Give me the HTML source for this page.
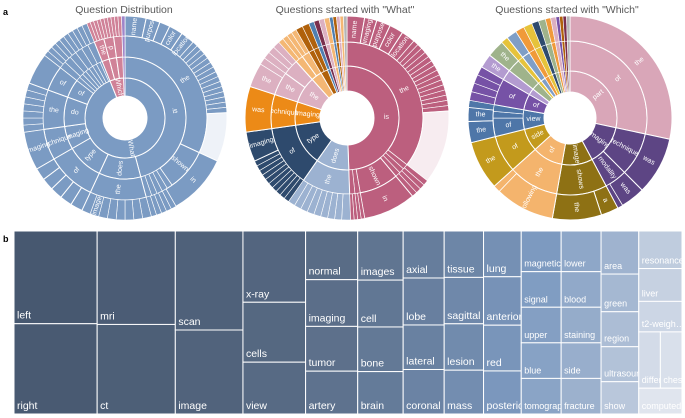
<!DOCTYPE html>
<html><head><meta charset="utf-8">
<style>
html,body{margin:0;padding:0;background:#fff;}
body{width:685px;height:418px;overflow:hidden;position:relative;font-family:"Liberation Sans",sans-serif;}
svg{position:absolute;left:0;top:0;}
</style></head>
<body>
<svg id="fig" width="685" height="418" viewBox="0 0 685 418">
  <text x="3" y="15" font-size="9" font-weight="bold" fill="#000">a</text>
  <text x="3" y="242" font-size="9" font-weight="bold" fill="#000">b</text>
  <text x="124" y="13" font-size="10.5" fill="#595959" text-anchor="middle">Question Distribution</text>
  <text x="345" y="13" font-size="10.5" fill="#595959" text-anchor="middle">Questions started with "What"</text>
  <text x="567" y="13" font-size="10.5" fill="#595959" text-anchor="middle">Questions started with "Which"</text>
</svg>
<script>
// ---------- palette keys ----------
const PAL = {B:"#7b9bc3",F:"#eef2f8",P:"#d08298",V:"#9f86c9",
  M:"#bc5f7e",MF:"#f7ecf0",D:"#9cb2d1",N:"#2e4a6d",O:"#ec8a17",K:"#dcb0c1",L:"#f4b774",R:"#b0610b",U:"#4f7fb0",Q:"#7a2f4d",G:"#b5b5b5",
  A:"#d9a6b8",I:"#5d4584",H:"#8e7114",T:"#f4b46d",S:"#c39a1c",W:"#4e76a8",X:"#7652a6",Y:"#b39bd0",Z:"#9fb38b",J:"#e6c33a",C:"#7f9ec6",E:"#f09a3a"};

// ---------- Chart 1: Question Distribution ----------
const c1r1Values=[338,20,2];
const c1r1Labels=["What","Which",""];
const c1r1Colors=["B","P","V"];
const c1r2Values=[165,40,35,22,28,18,4,4,4,4,4,4,4,2,7,7,6,2];
const c1r2Labels=["is","does","type","imaging","do","of","","","","","","","","","","","",""];
const c1r2Colors=["B","B","B","B","B","B","B","B","B","B","B","B","B","B","P","P","P","V"];
const c1r3Values=[115,30,4,4,4,4,4,40,35,22,28,18,5,5,5,5,5,5,7,7,6,2];
const c1r3Labels=["the","shown","","","","","","the","of","technique","the","of","","","","","","","the","p","","" ];
const c1r3Colors=["B","B","B","B","B","B","B","B","B","B","B","B","B","B","B","B","B","B","P","P","P","V"];
const c1r4Values=[12,8,6,8,8,3,3,3,3,3,3,3,3,3,3,3,3,3,3,3,28,35,3,3,3,3,3,5,5,5,5,5,5,5,5,7,7,7,7,7,22,4,4,4,4,4,4,4,18,3,3,3,3,3,3,3,3,3,3,2,2,2,2,2,2,2,2,2,2,2];
const c1r4Labels=["name","purpose","","color","location","","","","","","","","","","","","","","","","","in","","","","","","","","","","","","image","","","","","","","imaging","was","","","","","","","","the","","","","","","","","","","","","","","","","","","","",""];
const c1r4Colors=["B","B","B","B","B","B","B","B","B","B","B","B","B","B","B","B","B","B","B","B","F","B","B","B","B","B","B","B","B","B","B","B","B","B","B","B","B","B","B","B","B","B","B","B","B","B","B","B","B","B","B","B","B","B","B","B","B","B","B","P","P","P","P","P","P","P","P","P","P","V"];

// ---------- Chart 2: What ----------
const c2r1Values=[178,37,47,26,30,12,8,3,3,3,3,2,2,2,2,2];
const c2r1Labels=["is","does","type","imaging","the","","","","","","","","","","",""];
const c2r1Colors=["M","D","N","O","K","L","R","U","Q","K","L","U","R","K","L","G"];
const c2r2Values=[128,4,4,4,30,4,4,37,47,26,18,12,6,6,4,4,3,3,3,3,2,2,2,2,2];
const c2r2Labels=["the","","","","shown","","","the","of","technique","the","","","","","","","","","","","","","",""];
const c2r2Colors=["M","M","M","M","M","M","M","D","N","O","K","K","L","L","R","R","U","Q","K","L","U","R","K","L","G"];
const c2r3Values=[10,7,8,8,8,3,3,3,3,3,3,3,3,3,3,3,3,3,3,3,42,3,3,3,3,30,2,2,2,2,5,4,4,4,4,4,4,4,4,3,3,3,3,3,3,3,3,3,3,17,26,14,4,4,4,4,3,3,3,3,4,4,3,3,3,3,2,2,2,2,2];
const c2r3Labels=["name","imaging","purpose","color","location","","","","","","","","","","","","","","","","","","","","","in","","","","","","","","the","","","","","","","","","","","","","","","","imaging","was","the","","","","","","","","","","","","","","","","","","",""];
const c2r3Colors=["M","M","M","M","M","M","M","M","M","M","M","M","M","M","M","M","M","M","M","M","MF","M","M","M","M","M","M","M","M","M","D","D","D","D","D","D","D","D","D","N","N","N","N","N","N","N","N","N","N","N","O","K","K","K","K","K","L","L","L","L","R","R","U","Q","K","L","U","R","K","L","G"];

// ---------- Chart 3: Which ----------
const c3r1Values=[102,50,38,38,28,24,20,8,10,4,6,5,5,4,4,3,3,2,2,2,2];
const c3r1Labels=["part","imaging","image","of","side","view","of","","","","","","","","","","","","","",""];
const c3r1Colors=["A","I","H","T","S","W","X","Y","Z","J","C","E","J","N","Z","E","K","X","R","Q","G"];
const c3r2Values=[102,33,17,38,38,28,14,5,5,20,8,10,4,6,5,5,4,4,3,3,2,2,2,2];
const c3r2Labels=["of","technique","modality","shows","the","of","of","","","of","","","","","","","","","","","","","",""];
const c3r2Colors=["A","I","I","H","T","S","W","W","W","X","Y","Z","J","C","E","J","N","Z","E","K","X","R","Q","G"];
const c3r3Values=[102,33,14,3,10,28,34,4,28,12,8,4,5,5,5,5,8,10,4,6,5,5,4,4,3,3,2,2,2,2];
const c3r3Labels=["the","was","was","","a","the","following","","the","the","the","","","","","","the","the","","","","","","","","","","","",""];
const c3r3Colors=["A","I","I","I","H","H","T","T","S","W","W","W","X","X","X","X","Y","Z","J","C","E","J","N","Z","E","K","X","R","Q","G"];

// ---------- Treemap ----------
const tmWords=["left","right","mri","ct","scan","image","x-ray","cells","view","normal","imaging","tumor","artery","images","cell","bone","brain","axial","lobe","lateral","coronal","tissue","sagittal","lesion","mass","lung","anterior","red","posterior","magnetic","signal","upper","blue","tomography","lower","blood","staining","side","fracture","area","green","region","ultrasound","show","resonance","liver","t2-weigh…","different","chest","computed"];
const tmValues=[76,74,72,69,66,56,44,37,32,25,24,23,22,22,21,20,19,19,19,18,18,18,18,18,17,17,18,17,16,16,14,14,14,14,16,14,14,14,14,16,14,13,13,12,16,14,13,12,12,11];
const tmColumn=[0,0,1,1,2,2,3,3,3,4,4,4,4,5,5,5,5,6,6,6,6,7,7,7,7,8,8,8,8,9,9,9,9,9,10,10,10,10,10,11,11,11,11,11,12,12,12,12,12,12];
const tmSharesRow=[0,0,0,0,0,0,0,0,0,0,0,0,0,0,0,0,0,0,0,0,0,0,0,0,0,0,0,0,0,0,0,0,0,0,0,0,0,0,0,0,0,0,0,0,0,0,0,0,1,0];

const NS="http://www.w3.org/2000/svg";
const svg=document.getElementById("fig");
function mk(tag,attrs){const e=document.createElementNS(NS,tag);for(const k in attrs)e.setAttribute(k,attrs[k]);return e;}
function pt(cx,cy,r,deg){const a=deg*Math.PI/180;return [cx+r*Math.sin(a),cy-r*Math.cos(a)];}
function arcPath(cx,cy,r0,r1,a0,a1){
  const large=(a1-a0)>180?1:0;
  const p1=pt(cx,cy,r1,a0),p2=pt(cx,cy,r1,a1),p3=pt(cx,cy,r0,a1),p4=pt(cx,cy,r0,a0);
  return `M${p1[0]},${p1[1]}A${r1},${r1} 0 ${large} 1 ${p2[0]},${p2[1]}L${p3[0]},${p3[1]}A${r0},${r0} 0 ${large} 0 ${p4[0]},${p4[1]}Z`;
}
function ring(g,cx,cy,r0,r1,vals,labs,cols,chartName,level){
  const total=vals.reduce((a,b)=>a+b,0);
  let acc=0;
  vals.forEach((v,i)=>{
    const a0=acc/total*360,a1=(acc+v)/total*360;acc+=v;
    const p=mk("path",{d:arcPath(cx,cy,r0,r1,a0,Math.min(a1,a0+359.99)),fill:PAL[cols[i]],stroke:"#fff","stroke-width":v>=6?1:0.6});
    
    
    g.appendChild(p);
    if(labs[i] && (a1-a0)>=5){
      const mid=(a0+a1)/2,rm=(r0+r1)/2,q=pt(cx,cy,rm,mid);
      const rot=mid<180?mid-90:mid+90;
      const t=mk("text",{x:q[0],y:q[1],"font-size":7,fill:"#fff","text-anchor":"middle","dominant-baseline":"central",transform:`rotate(${rot} ${q[0]} ${q[1]})`});
      t.textContent=labs[i];
      
      
      g.appendChild(t);
    }
  });
}
function sunburst(name,cx,cy,rings){
  const g=mk("g",{});
  
  
  svg.appendChild(g);
  rings.forEach((r,i)=>ring(g,cx,cy,r[0],r[1],r[2],r[3],r[4],name,i+1));
}
sunburst("sunburst-question-distribution",125,118,[
 [22,40,c1r1Values,c1r1Labels,c1r1Colors],
 [40,61,c1r2Values,c1r2Labels,c1r2Colors],
 [61,82,c1r3Values,c1r3Labels,c1r3Colors],
 [82,102,c1r4Values,c1r4Labels,c1r4Colors]]);
sunburst("sunburst-what",347,118,[
 [27,52,c2r1Values,c2r1Labels,c2r1Colors],
 [52,76,c2r2Values,c2r2Labels,c2r2Colors],
 [76,102,c2r3Values,c2r3Labels,c2r3Colors]]);
sunburst("sunburst-which",570,118,[
 [26,47,c3r1Values,c3r1Labels,c3r1Colors],
 [47,77,c3r2Values,c3r2Labels,c3r2Colors],
 [77,102,c3r3Values,c3r3Labels,c3r3Colors]]);

// ---------- treemap layout ----------
(function(){
  const X0=14,X1=682,Y0=231,Y1=414;
  const g=mk("g",{});
  
  
  svg.appendChild(g);
  const stops=[[0x47,0x58,0x70],[0x5b,0x6e,0x88],[0x6a,0x82,0xa3],[0x7e,0x9b,0xc1],[0xa0,0xb4,0xcf],[0xe0,0xe5,0xee]];
  function colorAt(t){const s=t*(stops.length-1);const k=Math.min(Math.floor(s),stops.length-2);const f=s-k;
    const c=stops[k].map((v,j)=>Math.round(v+(stops[k+1][j]-v)*f));return `rgb(${c[0]},${c[1]},${c[2]})`;}
  const nCols=Math.max(...tmColumn)+1;
  const grand=tmValues.reduce((a,b)=>a+b,0);
  let x=X0;
  const n=tmWords.length;
  for(let c=0;c<nCols;c++){
    const idx=tmWords.map((_,i)=>i).filter(i=>tmColumn[i]===c);
    const colTot=idx.reduce((a,i)=>a+tmValues[i],0);
    const w=colTot/grand*(X1-X0);
    const rows=[];
    idx.forEach(i=>{ if(tmSharesRow[i]&&rows.length) rows[rows.length-1].push(i); else rows.push([i]); });
    let y=Y0;
    rows.forEach(row=>{
      const rowTot=row.reduce((a,i)=>a+tmValues[i],0);
      const h=rowTot/colTot*(Y1-Y0);
      let xx=x;
      row.forEach(i=>{
        const ww=tmValues[i]/rowTot*w;
        const r=mk("rect",{x:xx,y:y,width:ww,height:h,fill:colorAt(i/(n-1)),stroke:"#fff","stroke-width":1});
        
        
        g.appendChild(r);
        const fs=i<29?10.5:9;
        const t=mk("text",{x:xx+3,y:y+h-5,"font-size":fs,fill:"#fff"});
        t.textContent=tmWords[i];
        
        
        g.appendChild(t);
        xx+=ww;
      });
      y+=h;
    });
    x+=w;
  }
})();
</script>
</body></html>
